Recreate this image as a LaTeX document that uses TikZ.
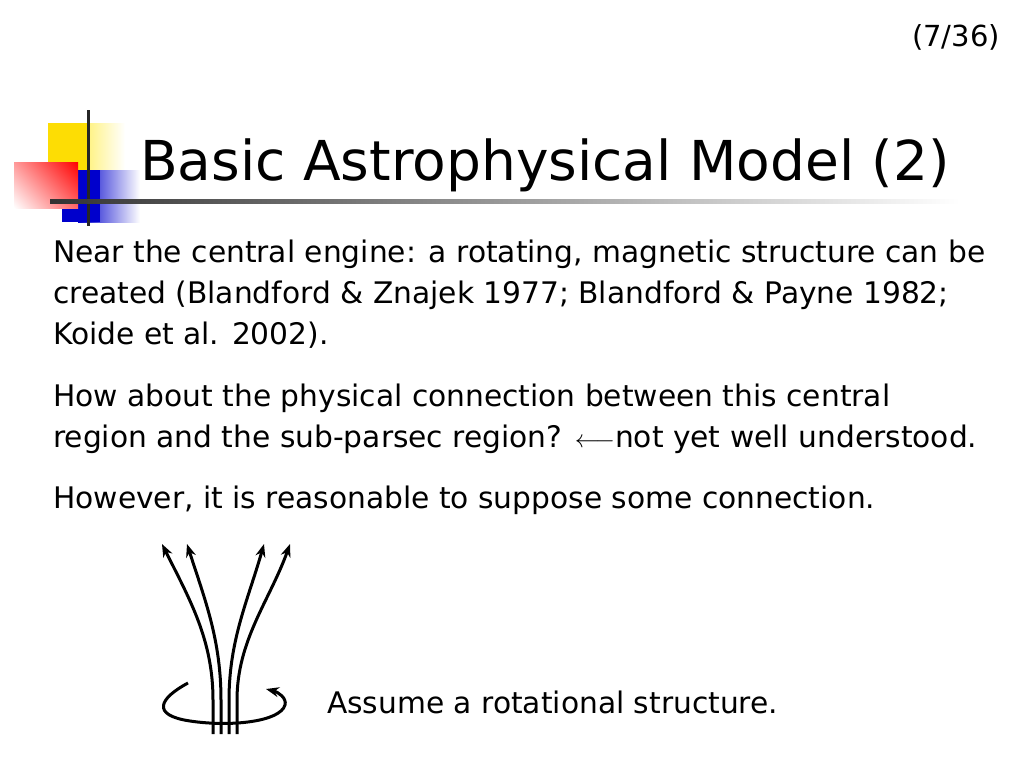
\documentclass[tikz,border=0pt]{standalone}
\usepackage{fontspec}
\setmainfont{DejaVu Sans}
\usetikzlibrary{arrows.meta,shadings}
\begin{document}
\begin{tikzpicture}[x=1pt,y=-1pt,
  body/.style={anchor=base west,font=\fontsize{29.7}{34}\selectfont,inner sep=0pt},
  fl/.style={line width=3pt,-{Stealth[length=13pt,width=10pt]}}]
\useasboundingbox (0,0) rectangle (1024,768);
% logo
\shade[left color=yellow!80!orange,right color=white] (48,123) rectangle (125,180);
\fill[yellow!80!orange] (48,123) rectangle (88,180);
\shade[left color=blue!80!black,right color=white] (78,170) rectangle (140,222);
\fill[blue!80!black] (62,170) rectangle (100,222);
\shade[upper right=red,lower left=white,upper left=red!40,lower right=red!60] (14,162) rectangle (78,208);
\draw[line width=3pt,black!85] (88,110) -- (88,226);
\shade[left color=black!80,right color=white] (50,199) rectangle (960,203);
\node[anchor=base east,font=\fontsize{29}{34}\selectfont,inner sep=0pt] (pg) at (1000,47) {(7/36)};
\node[anchor=base west,font=\fontsize{55}{64}\selectfont,inner sep=0pt] (title) at (140,180) {Basic Astrophysical Model (2)};
\node[body] (p1) at (53,262) {Near the central engine: a rotating, magnetic structure can be};
\node[body] (p2) at (53,303) {created (Blandford \& Znajek 1977; Blandford \& Payne 1982;};
\node[body] (p3) at (53,344) {Koide et al. 2002).};
\node[body] (p4) at (53,406) {How about the physical connection between this central};
\node[body] (p5) at (53,447) {region and the sub-parsec region? $\longleftarrow$not yet well understood.};
\node[body] (p6) at (53,508) {However, it is reasonable to suppose some connection.};
\node[body] (cap) at (327,713) {Assume a rotational structure.};
% field lines
\coordinate (b1) at (213,734); \coordinate (t1) at (162,544);
\coordinate (b2) at (221,734); \coordinate (t2) at (187,544);
\coordinate (b3) at (229,734); \coordinate (t3) at (264,544);
\coordinate (b4) at (237,734); \coordinate (t4) at (290,544);
\draw[fl] (b1) -- (213,700) .. controls (213,640) and (190,600) .. (t1);
\draw[fl] (b2) -- (221,700) .. controls (221,640) and (205,600) .. (t2);
\draw[fl] (b3) -- (229,700) .. controls (229,640) and (248,600) .. (t3);
\draw[fl] (b4) -- (237,700) .. controls (237,640) and (270,600) .. (t4);
\coordinate (r0) at (188,683); \coordinate (r1) at (266,689);
\draw[fl] (r0) .. controls (160,698) and (150,715) .. (190,721)
  .. controls (230,727) and (280,722) .. (285,705) .. controls (287,698) and (278,692) .. (r1);
\end{tikzpicture}
\end{document}
